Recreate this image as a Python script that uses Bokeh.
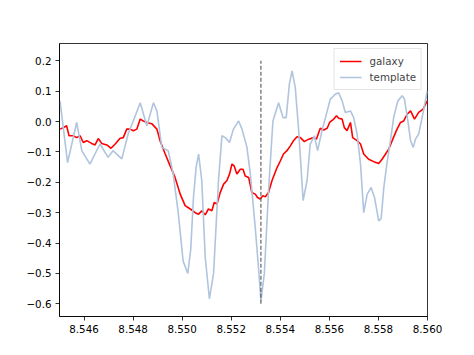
from bokeh.plotting import figure
from bokeh.models import Range1d, FixedTicker, CustomJSTickFormatter, Legend, LegendItem
from bokeh.embed import file_html
from bokeh.resources import INLINE

template_x = [8.54502, 8.54533, 8.54570, 8.54591, 8.54624, 8.54665, 8.54698, 8.54718, 8.54754, 8.54780,
              8.54800, 8.54829, 8.54856, 8.54883, 8.54897, 8.54917, 8.54943, 8.54963, 8.54984, 8.55004,
              8.55023, 8.55035, 8.55046, 8.55057, 8.55067, 8.55080, 8.55094, 8.55111, 8.55128, 8.55148,
              8.55162, 8.55176, 8.55193, 8.55209, 8.55230, 8.55244, 8.55264, 8.55278, 8.55298, 8.55311,
              8.55321, 8.55335, 8.55352, 8.55370, 8.55393, 8.55411, 8.55424, 8.55437, 8.55448, 8.55461,
              8.55475, 8.55493, 8.55509, 8.55522, 8.55539, 8.55552, 8.55570, 8.55584, 8.55604, 8.55624,
              8.55638, 8.55652, 8.55665, 8.55686, 8.55699, 8.55713, 8.55727, 8.55740, 8.55754, 8.55770,
              8.55784, 8.55801, 8.55811, 8.55822, 8.55836, 8.55849, 8.55862, 8.55879, 8.55897, 8.55906,
              8.55920, 8.55931, 8.55942, 8.55951, 8.55964, 8.55978, 8.55999]
template_y = [0.068, -0.135, -0.003, -0.096, -0.140, -0.074, -0.118, -0.096, -0.123, -0.040,
              0.000, 0.062, -0.014, 0.062, 0.035, -0.085, -0.096, -0.170, -0.300, -0.460,
              -0.500, -0.420, -0.250, -0.150, -0.107, -0.195, -0.447, -0.584, -0.500, -0.195,
              -0.047, -0.053, -0.069, -0.025, 0.002, -0.025, -0.085, -0.173, -0.350, -0.480,
              -0.590, -0.500, -0.228, 0.002, 0.062, 0.013, 0.013, 0.123, 0.167, 0.112,
              -0.030, -0.260, -0.195, -0.074, -0.047, -0.096, -0.030, 0.013, 0.074, 0.090,
              0.095, 0.068, 0.030, 0.035, 0.013, -0.041, -0.140, -0.300, -0.240, -0.217,
              -0.250, -0.327, -0.320, -0.217, -0.130, -0.063, 0.013, 0.068, 0.085, 0.074,
              0.002, -0.063, -0.085, -0.058, -0.041, 0.013, 0.100]

galaxy_x = [8.54502, 8.54516, 8.54529, 8.54539, 8.54556, 8.54570, 8.54584, 8.54597, 8.54611, 8.54631,
            8.54645, 8.54658, 8.54672, 8.54693, 8.54710, 8.54727, 8.54747, 8.54760, 8.54774, 8.54788,
            8.54801, 8.54815, 8.54829, 8.54842, 8.54856, 8.54876, 8.54897, 8.54910, 8.54931, 8.54951,
            8.54971, 8.54992, 8.55012, 8.55033, 8.55053, 8.55067, 8.55080, 8.55094, 8.55107, 8.55121,
            8.55131, 8.55142, 8.55155, 8.55169, 8.55182, 8.55193, 8.55203, 8.55212, 8.55223, 8.55237,
            8.55248, 8.55257, 8.55271, 8.55284, 8.55298, 8.55307, 8.55318, 8.55329, 8.55339, 8.55352,
            8.55366, 8.55384, 8.55400, 8.55413, 8.55427, 8.55441, 8.55454, 8.55468, 8.55482, 8.55498,
            8.55516, 8.55536, 8.55547, 8.55563, 8.55577, 8.55591, 8.55601, 8.55618, 8.55629, 8.55638,
            8.55652, 8.55661, 8.55672, 8.55686, 8.55695, 8.55713, 8.55727, 8.55740, 8.55760, 8.55781,
            8.55801, 8.55815, 8.55829, 8.55842, 8.55856, 8.55873, 8.55890, 8.55903, 8.55917, 8.55931,
            8.55947, 8.55964, 8.55982, 8.55999]
galaxy_y = [-0.025, -0.020, -0.014, -0.047, -0.047, -0.053, -0.047, -0.069, -0.063, -0.072,
            -0.077, -0.056, -0.072, -0.077, -0.088, -0.074, -0.055, -0.053, -0.025, -0.025,
            -0.030, -0.025, 0.008, 0.002, -0.003, -0.007, -0.025, -0.063, -0.107, -0.146,
            -0.184, -0.239, -0.277, -0.288, -0.300, -0.305, -0.294, -0.307, -0.288, -0.294,
            -0.266, -0.272, -0.234, -0.206, -0.195, -0.173, -0.140, -0.146, -0.173, -0.157,
            -0.157, -0.179, -0.184, -0.234, -0.239, -0.250, -0.255, -0.244, -0.248, -0.234,
            -0.195, -0.157, -0.130, -0.107, -0.096, -0.080, -0.063, -0.050, -0.053, -0.066,
            -0.058, -0.053, -0.058, -0.022, -0.028, -0.022, -0.003, 0.008, 0.019, 0.011,
            0.008, -0.020, -0.030, -0.003, -0.053, -0.063, -0.074, -0.107, -0.124, -0.132,
            -0.138, -0.124, -0.107, -0.091, -0.063, -0.030, -0.003, 0.002, 0.024, 0.035,
            0.008, 0.030, 0.041, 0.068]

marker_x = [8.55321, 8.55321]
marker_y = [-0.60, 0.20]

x_ticks = [8.546, 8.548, 8.550, 8.552, 8.554, 8.556, 8.558, 8.560]
y_ticks = [-0.6, -0.5, -0.4, -0.3, -0.2, -0.1, 0.0, 0.1, 0.2]

p = figure(width=474, height=355, frame_width=368, frame_height=273,
           min_border_left=59, min_border_right=47, min_border_top=43, min_border_bottom=39,
           output_backend="svg", toolbar_location=None,
           x_range=Range1d(8.545, 8.560), y_range=Range1d(-0.642, 0.257))

p.xgrid.visible = False
p.ygrid.visible = False
p.outline_line_color = "#000000"
p.outline_line_width = 0.8
p.background_fill_color = "white"
p.border_fill_color = "white"

for ax in (p.xaxis[0], p.yaxis[0]):
    ax.axis_line_color = "#000000"
    ax.axis_line_width = 0.8
    ax.major_tick_line_color = "#000000"
    ax.major_tick_line_width = 0.8
    ax.major_tick_in = 0
    ax.major_tick_out = 4
    ax.minor_tick_line_color = None
    ax.major_label_text_font = "DejaVu Sans"
    ax.major_label_text_font_size = "10.3px"
    ax.major_label_text_color = "#000000"
    ax.major_label_standoff = 4

p.xaxis[0].ticker = FixedTicker(ticks=x_ticks)
p.yaxis[0].ticker = FixedTicker(ticks=y_ticks)
p.xaxis[0].formatter = CustomJSTickFormatter(code="return tick.toFixed(3);")
p.yaxis[0].formatter = CustomJSTickFormatter(code="return tick.toFixed(1).replace('-', '\u2212');")

g = p.line(galaxy_x, galaxy_y, line_color="#ff0000", line_width=1.6)
t = p.line(template_x, template_y, line_color="#b0c4de", line_width=1.6)
p.line(marker_x, marker_y, line_color="#555555", line_width=1.1, line_dash="4 2")

legend = Legend(items=[LegendItem(label="galaxy", renderers=[g]),
                       LegendItem(label="template", renderers=[t])],
                location="top_right", margin=5, padding=5, spacing=2,
                glyph_width=22, glyph_height=14, label_height=14,
                label_text_font="DejaVu Sans", label_text_font_size="10.3px",
                label_standoff=8,
                border_line_color="#cccccc", border_line_width=1,
                background_fill_alpha=0.8)
p.add_layout(legend)

open("out.html", "w").write(file_html(p, INLINE))
